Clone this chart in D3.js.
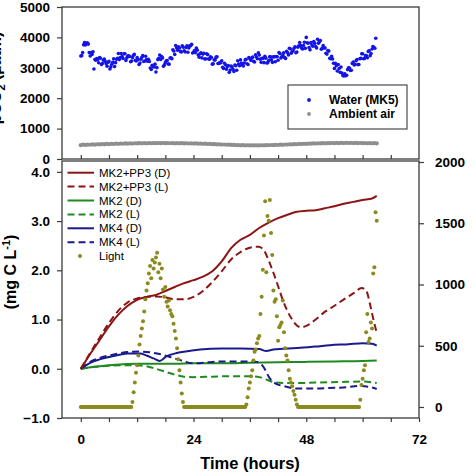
<!DOCTYPE html>
<html><head><meta charset="utf-8">
<script src="https://cdn.jsdelivr.net/npm/d3@7"></script>
<style>body{margin:0;background:#fff}svg{display:block}</style>
</head><body>
<svg id="c" width="474" height="474"></svg>
<script>
// ---------- DATA ----------
// Top panel: pCO2 (µatm). Series A sampled every waterStep hours from t=0,
// series B (interleaved readings) from t=waterOffsetB.
const waterStep = 0.4;
const waterOffsetB = 0.2;
const waterValues = [
3390,3500,3830,3790,3780,3390,3440,2960,3250,3270,
3340,3110,3250,3210,3050,3210,3030,3180,3040,3280,
3470,3340,3370,3460,3240,3390,3370,3220,3410,3250,
3340,3110,3280,3400,3220,3270,3280,2990,3080,3030,
2860,3270,3420,3370,3050,3170,3240,3120,3330,3590,
3440,3660,3690,3540,3720,3560,3670,3510,3720,3770,
3510,3500,3580,3350,3490,3450,3290,3460,3290,3360,
3120,3260,3350,3140,3170,3230,2980,3100,3040,2850,
3060,2950,3090,2920,3120,3260,3090,3160,3280,3110,
3300,3320,3210,3430,3300,3420,3180,3310,3380,3160,
3240,3360,3180,3360,3370,3250,3470,3360,3490,3310,
3500,3640,3480,3560,3690,3520,3720,3730,3620,3840,
4000,3810,3590,3750,3860,3700,3940,3860,3610,3730,
3650,3450,3550,3300,3290,2980,3070,3110,2850,2830,
2730,2740,2940,2990,2920,3190,3110,3270,3110,3310,
3460,3310,3400,3540,3400,3620,3670,3970];
const waterValuesB = [
3400,3755,3750,3825,3500,3505,3530,3275,3305,3165,
3315,3140,3285,3135,3180,2960,3115,3295,3170,3310,
3270,3470,3305,3460,3325,3395,3200,3335,3440,3225,
3270,3155,3345,3205,3380,3215,3205,2945,3040,3120,
3005,3315,3275,3325,3100,3230,3125,3320,3300,3555,
3730,3580,3650,3520,3680,3525,3725,3655,3730,3485,
3570,3650,3425,3460,3325,3475,3295,3435,3285,3335,
3130,3260,3360,3140,3170,3015,3150,2955,3070,2925,
3025,2880,3070,3230,3065,3150,3060,3260,3135,3335,
3245,3350,3190,3355,3490,3285,3315,3170,3315,3165,
3360,3260,3360,3200,3365,3500,3325,3415,3335,3545,
3425,3625,3535,3645,3495,3680,3830,3650,3730,3640,
3825,3665,3830,3710,3805,3655,3810,3895,3650,3655,
3475,3570,3315,3375,3150,3145,2895,2975,3025,2750,
2800,2755,3000,2910,3145,3090,3230,3105,3300,3460,
3300,3400,3330,3560,3470,3700,3645];
const ambientStep = 0.5;
const ambientValues = [
455,470,462,475,468,480,472,485,478,490,484,
495,488,500,493,505,498,508,502,512,505,
515,508,518,512,520,514,522,516,524,518,
525,519,526,520,527,521,525,518,524,517,
522,515,520,512,518,510,515,507,512,504,
508,499,503,494,497,488,490,481,484,475,
477,468,470,462,464,456,458,451,455,448,
452,446,451,445,450,447,453,449,456,452,
460,456,465,461,471,467,477,473,483,479,
489,485,495,491,501,497,507,503,512,508,
516,512,520,516,524,519,527,522,529,524,
530,525,531,526,530,524,528,522,526,520,
524,518,521,515,519,512];

// Lower panel: light (right axis), sampled every lightStep hours from t=0
const lightStep = 0.25;
const lightValues = [
0,0,0,0,0,0,0,0,0,0,0,
0,0,0,0,0,0,0,0,0,0,0,
0,0,0,0,0,0,0,0,0,0,0,
0,0,0,0,0,0,0,0,0,0,0,
40,120,200,280,340,420,510,580,640,700,
780,880,950,1010,1090,1150,1050,1200,1130,1180,
1220,1260,1100,1170,1050,1130,960,900,980,860,
820,870,790,760,740,680,620,560,480,390,
300,200,110,40,
0,0,0,0,0,0,0,0,0,0,
0,0,0,0,0,0,0,0,0,0,
0,0,0,0,0,0,0,0,0,0,
0,0,0,0,0,0,0,0,0,0,
0,0,0,0,0,0,0,0,0,0,
0,0,0,
20,80,150,200,250,300,380,450,470,520,
560,580,760,900,1120,1400,1680,1100,1560,1520,
1690,1420,1240,950,860,880,740,540,650,670,
690,870,610,480,420,380,300,230,200,170,
130,100,60,20,
0,0,0,0,0,0,0,0,0,0,
0,0,0,0,0,0,0,0,0,0,
0,0,0,0,0,0,0,0,0,0,
0,0,0,0,0,0,0,0,0,0,
0,0,0,0,0,0,0,0,0,0,
0,0,0,
60,180,230,300,340,610,760,530,560,690,640,1090,1140,1590,1520];

const mk2pp3D_t = [0,2,4,6,8,10,12,14,16,18,20,22,24,26,28,30,32,34,36,38,40,42,44,46,48,50,52,54,56,58,60,62,63];
const mk2pp3D_v = [0,0.30,0.58,0.86,1.10,1.28,1.40,1.46,1.50,1.58,1.66,1.74,1.80,1.87,1.98,2.18,2.45,2.62,2.72,2.86,2.97,3.06,3.13,3.19,3.21,3.22,3.26,3.30,3.35,3.39,3.43,3.46,3.51];
const mk2pp3L_t = [0,2,4,6,8,10,12,14,16,18,20,22,24,26,28,30,32,34,36,37.8,38.8,40,41,42,43,44,45,46,47,48,50,52,54,56,58,59.8,60.8,61.6,62.3,63];
const mk2pp3L_v = [0,0.32,0.63,0.93,1.18,1.35,1.43,1.46,1.47,1.45,1.41,1.41,1.46,1.58,1.76,1.98,2.22,2.37,2.46,2.48,2.43,2.20,1.95,1.68,1.40,1.17,1.00,0.88,0.84,0.87,1.00,1.16,1.28,1.41,1.53,1.64,1.58,1.30,1.00,0.73];
const mk2D_t = [0,3,6,9,12,16,20,24,30,36,42,48,54,60,63];
const mk2D_v = [0,0.04,0.07,0.09,0.10,0.10,0.10,0.11,0.11,0.12,0.13,0.14,0.15,0.16,0.17];
const mk2L_t = [0,3,6,9,12,14,16,18,20,22,24,28,32,36,38,39.5,41,43,46,50,55,60,63];
const mk2L_v = [0,0.04,0.06,0.07,0.07,0.05,0.0,-0.06,-0.12,-0.16,-0.17,-0.16,-0.15,-0.15,-0.17,-0.22,-0.27,-0.29,-0.29,-0.28,-0.27,-0.26,-0.29];
const mk4D_t = [0,2,4,6,8,10,12.6,14,15.5,16.8,18.2,20.4,23,25.4,30,34,38,39.5,41,46,50,53,57,60,62,63];
const mk4D_v = [0,0.12,0.19,0.24,0.28,0.31,0.31,0.27,0.21,0.16,0.25,0.32,0.36,0.39,0.41,0.41,0.40,0.36,0.39,0.42,0.45,0.48,0.50,0.52,0.51,0.47];
const mk4L_t = [0,2,4,6,8,10,12.6,15,16.8,19,21,24,28,32,36,37.5,38.8,40.2,41.5,43.1,45.9,50,53,56,59.5,62,63];
const mk4L_v = [0,0.14,0.22,0.27,0.31,0.34,0.35,0.33,0.30,0.24,0.18,0.11,0.14,0.15,0.15,0.14,0.05,-0.19,-0.30,-0.35,-0.40,-0.40,-0.39,-0.38,-0.35,-0.38,-0.41];

const topYTicks = [0,1000,2000,3000,4000,5000];
const leftTicks = [-1,0,1,2,3,4];
const rightTicks = [0,500,1000,1500,2000];
const xTicks = [0,6,12,18,24,30,36,42,48,54,60,66,72];
const xLabelTicks = [0,24,48,72];
const topXTicks = [0,6,12,18,24,30,36,42,48,54,60,66];

const legendTop = ["Water (MK5)","Ambient air"];
const legendLow = ["MK2+PP3 (D)","MK2+PP3 (L)","MK2 (D)","MK2 (L)","MK4 (D)","MK4 (L)","Light"];

// ---------- DRAW ----------
const FONT = '"Liberation Sans", Arial, sans-serif';
const svg = d3.select('#c').style('font-family', FONT);
const frame = '#3a3a3a';
const RED = '#8b1414', GREEN = '#1f8a1f', NAVY = '#1a1a8c', OLIVE = '#8a8a1e', BLUE = '#1414e6', GRAY = '#8e8e8e';

const x = d3.scaleLinear().domain([-4,72]).range([62,419]);
const yTop = d3.scaleLinear().domain([0,5000]).range([159,7]);
const yL = d3.scaleLinear().domain([-1,4.2]).range([418,162]);
const yR = d3.scaleLinear().domain([-90,2000]).range([418,162]);

function styleAxis(g, size){
  g.select('.domain').remove();
  g.selectAll('line').attr('stroke', frame).attr('stroke-width',1.2);
  g.selectAll('text').attr('font-family', FONT).attr('font-weight','bold').attr('font-size', size).attr('fill','#000');
}

svg.append('rect').attr('x',62).attr('y',7).attr('width',357).attr('height',152)
  .attr('fill','none').attr('stroke',frame).attr('stroke-width',1.3);
svg.append('rect').attr('x',62).attr('y',161).attr('width',357).attr('height',257)
  .attr('fill','none').attr('stroke',frame).attr('stroke-width',1.3);

svg.append('g').attr('transform','translate(62,0)')
  .call(d3.axisLeft(yTop).tickValues(topYTicks).tickSize(5).tickPadding(7).tickFormat(d3.format('d')))
  .call(g=>styleAxis(g,'13.5px'));
svg.append('g').attr('transform','translate(0,159)')
  .call(d3.axisBottom(x).tickValues(topXTicks).tickSize(-4).tickFormat(''))
  .call(g=>styleAxis(g,'13px'));

svg.append('g').attr('transform','translate(62,0)')
  .call(d3.axisLeft(yL).tickValues(leftTicks).tickSize(5).tickPadding(7).tickFormat(d3.format('.1f')))
  .call(g=>styleAxis(g,'13.5px'));
svg.append('g').attr('transform','translate(419,0)')
  .call(d3.axisRight(yR).tickValues(rightTicks).tickSize(5).tickPadding(11).tickFormat(d3.format('d')))
  .call(g=>styleAxis(g,'13.5px'));
svg.append('g').attr('transform','translate(0,418)')
  .call(d3.axisBottom(x).tickValues(xTicks).tickSize(4).tickPadding(12)
        .tickFormat(d => xLabelTicks.includes(d) ? String(d) : ''))
  .call(g=>styleAxis(g,'13.5px'));

svg.append('text').attr('x',250).attr('y',469).attr('text-anchor','middle')
  .attr('font-weight','bold').attr('font-size','16.5px').text('Time (hours)');

const tl = svg.append('text').attr('transform','translate(1,78) rotate(-90)')
  .attr('text-anchor','middle').attr('font-weight','bold').attr('font-size','16px');
tl.append('tspan').text('pCO');
tl.append('tspan').attr('dy',4).attr('font-size','11px').text('2');
tl.append('tspan').attr('dy',-4).text(' (µatm)');

const ll = svg.append('text').attr('transform','translate(16,272) rotate(-90)')
  .attr('text-anchor','middle').attr('font-weight','bold').attr('font-size','16px');
ll.append('tspan').text('(mg C L');
ll.append('tspan').attr('dy',-6).attr('font-size','11px').text('-1');
ll.append('tspan').attr('dy',6).text(')');

svg.append('g').selectAll('circle').data(ambientValues).join('circle')
  .attr('cx',(d,i)=>x(i*ambientStep)).attr('cy',d=>yTop(d)).attr('r',2.1).attr('fill',GRAY);
svg.append('g').selectAll('circle').data(waterValues).join('circle')
  .attr('cx',(d,i)=>x(i*waterStep)).attr('cy',d=>yTop(d)).attr('r',1.8).attr('fill',BLUE);
svg.append('g').selectAll('circle').data(waterValuesB).join('circle')
  .attr('cx',(d,i)=>x(waterOffsetB + i*waterStep)).attr('cy',d=>yTop(d)).attr('r',1.8).attr('fill',BLUE);

svg.append('rect').attr('x',288).attr('y',85).attr('width',119).attr('height',44)
  .attr('fill','#fff').attr('stroke',frame).attr('stroke-width',1.1);
[BLUE, GRAY].forEach((c,i)=>{
  svg.append('circle').attr('cx',309).attr('cy',100+i*14).attr('r',1.9).attr('fill',c);
  svg.append('text').attr('x',329).attr('y',100+i*14).attr('dy','0.35em')
    .attr('font-weight','bold').attr('font-size','12px').text(legendTop[i]);
});

const series = [
  {t:mk2pp3D_t, v:mk2pp3D_v, c:RED, dash:null},
  {t:mk2pp3L_t, v:mk2pp3L_v, c:RED, dash:'7,4'},
  {t:mk2D_t, v:mk2D_v, c:GREEN, dash:null},
  {t:mk2L_t, v:mk2L_v, c:GREEN, dash:'7,4'},
  {t:mk4D_t, v:mk4D_v, c:NAVY, dash:null},
  {t:mk4L_t, v:mk4L_v, c:NAVY, dash:'7,4'}
];
const line = d3.line().x(d=>x(d[0])).y(d=>yL(d[1])).curve(d3.curveMonotoneX);
[2,3,4,5,1,0].forEach(k=>{
  const s = series[k];
  svg.append('path').attr('d', line(s.t.map((t,i)=>[t,s.v[i]])))
    .attr('fill','none').attr('stroke',s.c).attr('stroke-width',2)
    .attr('stroke-dasharray', s.dash);
});

svg.append('g').selectAll('circle').data(lightValues).join('circle')
  .attr('cx',(d,i)=>x(i*lightStep)).attr('cy',d=>yR(d)).attr('r',2).attr('fill',OLIVE);

legendLow.forEach((name,i)=>{
  const yy = 172.7 + i*13.9;
  if (i < 6) {
    const s = series[i];
    svg.append('line').attr('x1',67.5).attr('x2',94).attr('y1',yy).attr('y2',yy)
      .attr('stroke',s.c).attr('stroke-width',2).attr('stroke-dasharray',s.dash);
  } else {
    svg.append('circle').attr('cx',80).attr('cy',yy).attr('r',2).attr('fill',OLIVE);
  }
  svg.append('text').attr('x',99).attr('y',yy).attr('dy','0.35em')
    .attr('font-size','11.5px').text(name);
});
</script>
</body></html>
